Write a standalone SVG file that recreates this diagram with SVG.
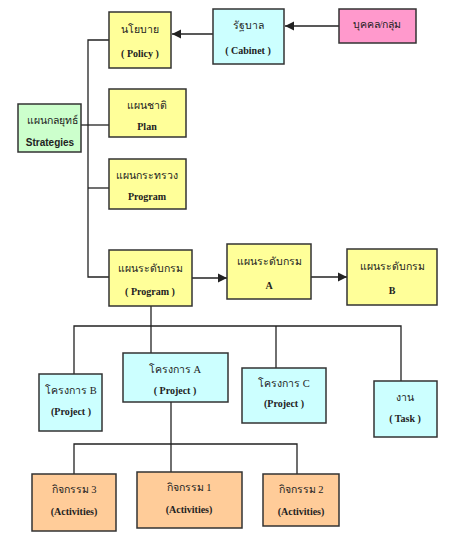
<svg xmlns="http://www.w3.org/2000/svg" width="450" height="537" viewBox="0 0 450 537">
<defs>
<style>
.box{stroke:#333;stroke-width:1.5}
.y{fill:#FFFF99}.c{fill:#CCFFFF}.p{fill:#FF99CC}.g{fill:#CCFFCC}.o{fill:#FFCC99}
.ln{stroke:#222;stroke-width:1.3;fill:none}
text{font-family:"Liberation Serif","DejaVu Serif",serif;font-size:10px;font-weight:bold;fill:#222;text-anchor:middle}
.th{font-size:10.5px;font-weight:normal}
.ss{font-family:"Liberation Sans","DejaVu Sans",sans-serif;font-size:10px}
</style>
<marker id="ah" viewBox="0 0 10 10" refX="10" refY="5" markerWidth="7" markerHeight="7" orient="auto"><path d="M0,0L10,5L0,10z" fill="#222"/></marker>
</defs>
<rect width="450" height="537" fill="#fff"/>
<g id="connectors">
<line class="ln" x1="339" y1="26" x2="285" y2="26" marker-end="url(#ah)"/>
<line class="ln" x1="213" y1="34" x2="172" y2="34" marker-end="url(#ah)"/>
<polyline class="ln" points="109,40 88,40 88,277 109,277"/>
<line class="ln" x1="81" y1="125" x2="109" y2="125"/>
<line class="ln" x1="88" y1="188" x2="109" y2="188"/>
<line class="ln" x1="192" y1="278" x2="227" y2="278" marker-end="url(#ah)"/>
<line class="ln" x1="311" y1="277" x2="347" y2="277" marker-end="url(#ah)"/>
<line class="ln" x1="151" y1="306" x2="151" y2="353"/>
<polyline class="ln" points="74,374 74,326 401,326 401,381"/>
<line class="ln" x1="276" y1="326" x2="276" y2="368"/>
<line class="ln" x1="171" y1="402" x2="171" y2="472"/>
<polyline class="ln" points="74,474 74,444 297,444 297,474"/>
</g>
<g id="policy"><rect class="box y" x="109" y="12" width="62" height="56"/><text class="th" x="140" y="33">นโยบาย</text><text x="140" y="57">( Policy )</text></g>
<g id="cabinet"><rect class="box c" x="213" y="9" width="71" height="55"/><text class="th" x="248" y="29">รัฐบาล</text><text x="248" y="54">( Cabinet )</text></g>
<g id="person"><rect class="box p" x="339" y="9" width="77" height="34"/><text class="th" x="377" y="28">บุคคล/กลุ่ม</text></g>
<g id="strategies"><rect class="box g" x="18" y="104" width="63" height="48"/><text class="th" x="52" y="124">แผนกลยุทธ์</text><text class="ss" x="50" y="146">Strategies</text></g>
<g id="plan"><rect class="box y" x="109" y="89" width="77" height="48"/><text class="th" x="147" y="109">แผนชาติ</text><text x="147" y="130">Plan</text></g>
<g id="ministry"><rect class="box y" x="109" y="159" width="77" height="50"/><text class="th" x="147" y="179">แผนกระทรวง</text><text x="147" y="200">Program</text></g>
<g id="dept"><rect class="box y" x="109" y="250" width="83" height="56"/><text class="th" x="150" y="272">แผนระดับกรม</text><text x="150" y="295">( Program )</text></g>
<g id="deptA"><rect class="box y" x="227" y="244" width="84" height="55"/><text class="th" x="269" y="265">แผนระดับกรม</text><text x="269" y="289">A</text></g>
<g id="deptB"><rect class="box y" x="347" y="249" width="90" height="56"/><text class="th" x="392" y="270">แผนระดับกรม</text><text x="392" y="294">B</text></g>
<g id="projB"><rect class="box c" x="39" y="374" width="63" height="57"/><text class="th" x="71" y="394">โครงการ B</text><text x="71" y="415">(Project )</text></g>
<g id="projA"><rect class="box c" x="123" y="353" width="105" height="49"/><text class="th" x="175" y="373">โครงการ A</text><text x="175" y="394">( Project )</text></g>
<g id="projC"><rect class="box c" x="242" y="368" width="84" height="55"/><text class="th" x="284" y="387">โครงการ C</text><text x="284" y="407">(Project )</text></g>
<g id="task"><rect class="box c" x="374" y="381" width="63" height="56"/><text class="th" x="405" y="401">งาน</text><text x="405" y="422">( Task )</text></g>
<g id="act3"><rect class="box o" x="32" y="474" width="84" height="57"/><text class="th" x="74" y="493">กิจกรรม 3</text><text x="74" y="515">(Activities)</text></g>
<g id="act1"><rect class="box o" x="137" y="472" width="105" height="56"/><text class="th" x="189" y="491">กิจกรรม 1</text><text x="189" y="513">(Activities)</text></g>
<g id="act2"><rect class="box o" x="263" y="474" width="76" height="52"/><text class="th" x="301" y="493">กิจกรรม 2</text><text x="301" y="515">(Activities)</text></g>
</svg>
